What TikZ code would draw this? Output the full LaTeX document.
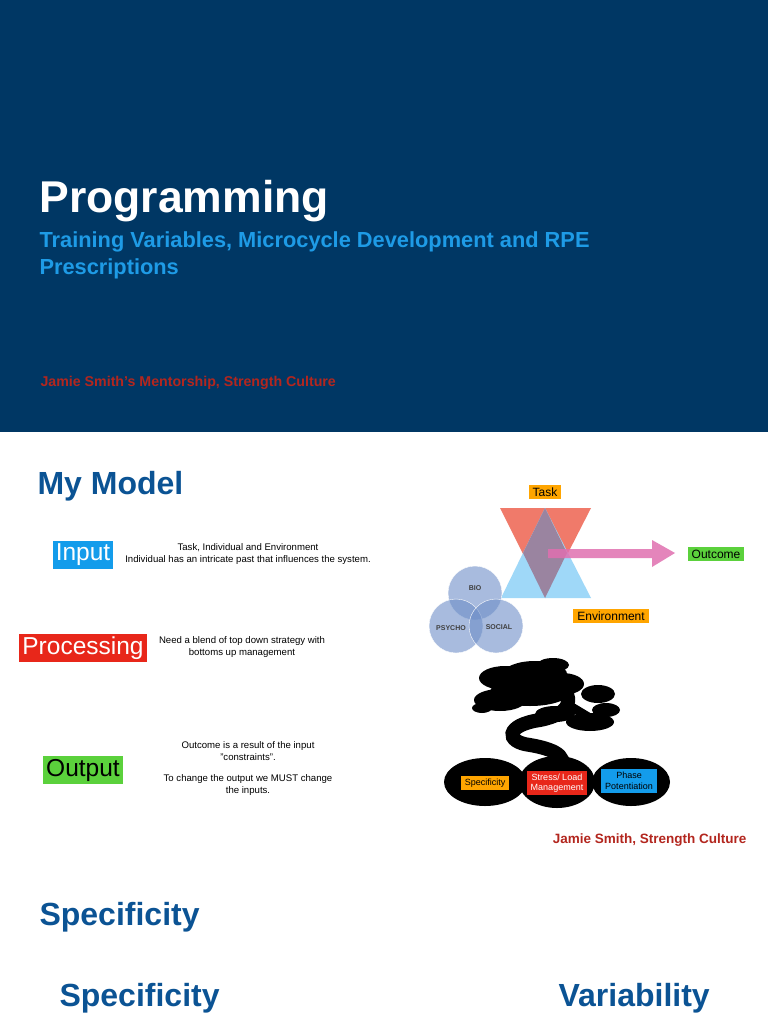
\documentclass[tikz,border=0pt]{standalone}
\usepackage{fontspec}
\setmainfont{Liberation Sans}
\begin{document}
\begin{tikzpicture}[x=1pt,y=-1pt,
  lab/.style={inner xsep=4pt,inner ysep=3pt,font=\fontsize{12}{14}\selectfont},
  small/.style={inner xsep=4pt,inner ysep=3pt,align=center,font=\fontsize{9}{10.5}\selectfont},
  big/.style={inner xsep=3pt,inner ysep=3pt,font=\fontsize{24.5}{28}\selectfont},
  note/.style={align=center,font=\fontsize{9.6}{12}\selectfont},
  head/.style={anchor=west,text=headblue,font=\bfseries\fontsize{32}{36}\selectfont},
  circ/.style={circle,minimum size=54pt,fill=circblue,fill opacity=0.6,draw=white}]
\definecolor{bandblue}{HTML}{003764}
\definecolor{subblue}{HTML}{1E9BE6}
\definecolor{darkred}{HTML}{B3261E}
\definecolor{headblue}{HTML}{0B5394}
\definecolor{inblue}{HTML}{139CEB}
\definecolor{procred}{HTML}{E8271A}
\definecolor{outgreen}{HTML}{5BD13C}
\definecolor{tri1}{HTML}{F07A6A}
\definecolor{tri2}{HTML}{9FD8F8}
\definecolor{mid}{HTML}{9A84A0}
\definecolor{arrowpink}{HTML}{E070B0}
\definecolor{orangeb}{HTML}{FFA500}
\definecolor{circblue}{HTML}{6E8FC8}
\useasboundingbox (0,0) rectangle (768,1024);
\fill[white] (0,0) rectangle (768,1024);
\fill[bandblue] (0,0) rectangle (768,432);
\node[anchor=west,text=white,font=\bfseries\fontsize{44.5}{48}\selectfont] (title) at (36,201) {Programming};
\node[anchor=north west,text=subblue,align=left,font=\bfseries\fontsize{21.8}{27}\selectfont] (sub) at (36,228) {Training Variables, Microcycle Development and RPE\\Prescriptions};
\node[anchor=west,text=darkred,font=\bfseries\fontsize{14.2}{16}\selectfont] (auth) at (37,383) {Jamie Smith's Mentorship, Strength Culture};
\node[head] (mm) at (34,486) {My Model};
\node[big,fill=inblue,text=white] (in) at (83,555) {Input};
\node[big,fill=procred,text=white] (proc) at (83,648) {Processing};
\node[big,fill=outgreen,text=black] (out) at (83,770) {Output};
\node[note] (n1) at (248,554) {Task, Individual and Environment\\Individual has an intricate past that influences the system.};
\node[note] (n2) at (242,647) {Need a blend of top down strategy with\\bottoms up management};
\node[note] (n3) at (248,769) {Outcome is a result of the input\\"constraints".\\[9pt]To change the output we MUST change\\the inputs.};
% triangles
\fill[tri1] (500,508) -- (591,508) -- (545,598) -- cycle;
\fill[tri2] (501,598) -- (591,598) -- (545,508) -- cycle;
\fill[mid] (545,508) -- (567,553) -- (545,598) -- (523,553) -- cycle;
\fill[arrowpink,opacity=0.85] (548,549) -- (652,549) -- (652,540) -- (675,553) -- (652,567) -- (652,558) -- (548,558) -- cycle;
\node[lab,fill=orangeb] (task) at (545,492) {Task};
\node[lab,fill=outgreen] (outc) at (716,554) {Outcome};
\node[lab,fill=orangeb] (env) at (611,616) {Environment};
\node[circ] (bio) at (475,593) {};
\node[circ] (psy) at (456,626) {};
\node[circ] (soc) at (496,626) {};
\node[font=\bfseries\fontsize{7}{8}\selectfont,text=black!75] at (475,588) {BIO};
\node[font=\bfseries\fontsize{7}{8}\selectfont,text=black!75] at (451,628) {PSYCHO};
\node[font=\bfseries\fontsize{7}{8}\selectfont,text=black!75] at (499,627) {SOCIAL};
% tree
\begin{scope}[black]
\fill (505,678) ellipse (26 and 12);
\fill (535,674) ellipse (32 and 13);
\fill (553,665) ellipse (16 and 7);
\fill (500,700) ellipse (26 and 11);
\fill (482,708) ellipse (10 and 5);
\fill (530,692) ellipse (40 and 14);
\fill (562,684) ellipse (22 and 11);
\fill (598,694) ellipse (17 and 9);
\fill (606,710) ellipse (14 and 7);
\fill (590,722) ellipse (24 and 9);
\fill (555,714) ellipse (20 and 8);
\draw[line width=14pt] (560,684) .. controls (575,700) and (570,714) .. (540,720) .. controls (505,725) and (505,742) .. (530,745) .. controls (560,750) and (570,760) .. (555,770);
\draw[line width=9pt] (570,706) -- (590,718);
\fill (485,782) ellipse (41 and 24);
\fill (557,782) ellipse (38 and 26);
\fill (631,782) ellipse (39 and 24);
\end{scope}
\node[small,fill=orangeb] (spec) at (485,783) {Specificity};
\node[small,fill=procred,text=white] (stress) at (557,783) {Stress/ Load\\Management};
\node[small,fill=inblue,text=black] (phase) at (629,781) {Phase\\Potentiation};
\node[anchor=east,text=darkred,font=\bfseries\fontsize{13.5}{16}\selectfont] (auth2) at (750,840) {Jamie Smith, Strength Culture};
\node[head] (spec1) at (36,917) {Specificity};
\node[head] (spec2) at (56,998) {Specificity};
\node[head] (var) at (555,998) {Variability};
\end{tikzpicture}
\end{document}
